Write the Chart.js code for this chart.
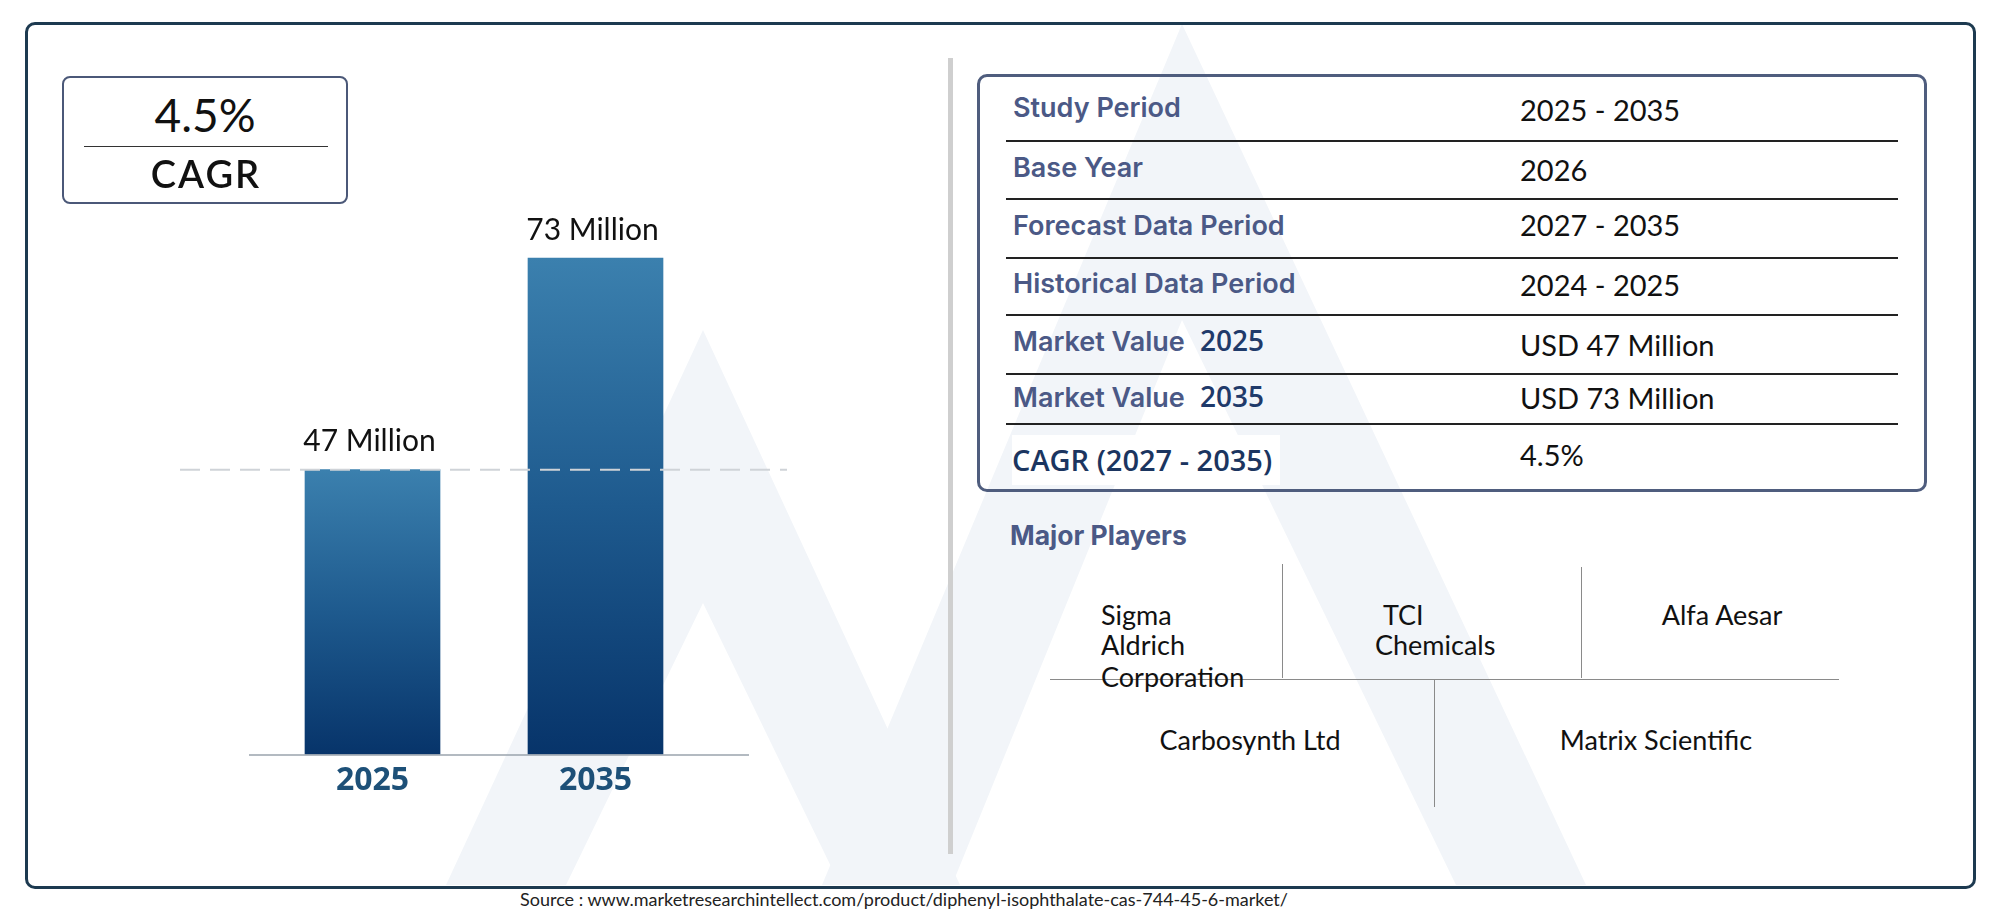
<!DOCTYPE html>
<html>
<head>
<meta charset="utf-8">
<script src="https://cdn.jsdelivr.net/npm/chart.js@4.4.1/dist/chart.umd.min.js"></script>
<style>
  html, body { margin: 0; padding: 0; background: #ffffff; width: 2000px; height: 917px; overflow: hidden; }
  #root { position: relative; width: 2000px; height: 917px; }
  .abs { position: absolute; white-space: nowrap; }
  .lbl { font-family: 'Inter', 'Open Sans', sans-serif; font-weight: 600; color: #4b5986; font-size: 27px; }
  .val { font-family: 'Lato', 'Noto Sans', sans-serif; color: #111; font-size: 29px; }
  .yr  { font-family: 'Open Sans', sans-serif; font-weight: 600; color: #1f3a6a; font-size: 28px; }
  .ply { font-family: 'Lato', 'Noto Sans', sans-serif; color: #111; font-size: 27px; }
</style>
</head>
<body>
<div id="root">
  <svg class="abs" style="left:0;top:0" width="2000" height="917">
    <path fill="#f2f5f9" fill-rule="evenodd"
      d="M703,330 L446,885 L960,885 Z M703,603 L566,885 L840,885 Z"/>
    <path fill="#f2f5f9" fill-rule="evenodd"
      d="M1182,24 L822,885 L1586,885 Z M1182,320 L952,885 L1456,885 Z"/>
  </svg>
  <div class="abs" style="left:25px;top:22px;width:1945px;height:861px;border:3px solid #1d3a50;border-radius:10px;"></div>
  <div class="abs" style="left:62px;top:76px;width:282px;height:124px;border:2.5px solid #4b5878;border-radius:8px;"></div>
  <div class="abs" style="left:84px;top:146px;width:244px;height:1px;background:#333;"></div>
  <div class="abs" style="left:948px;top:58px;width:5px;height:796px;background:#cfcfcf;"></div>
  <div class="abs" style="left:977px;top:74px;width:944px;height:412px;border:3px solid #4f5d7e;border-radius:10px;"></div>
  <div id="chartBox" class="abs" style="left:150px;top:150px;width:700px;height:700px;">
    <canvas id="c"></canvas>
  </div>
</div>
<script>
// ---- data ----
const categories = ['2025', '2035'];
const marketValues = [47, 73];
const valueLabels = ['47 Million', '73 Million'];
const cagrText = '4.5%';
const cagrTitle = 'CAGR';
const tableLabels = ['Study Period', 'Base Year', 'Forecast Data Period', 'Historical Data Period', 'Market Value', 'Market Value', 'CAGR (2027 - 2035)'];
const tableLabelYears = ['', '', '', '', '2025', '2035', ''];
const tableValues = ['2025 - 2035', '2026', '2027 - 2035', '2024 - 2025', 'USD 47 Million', 'USD 73 Million', '4.5%'];
const playersTitle = 'Major Players';
const players = ['Sigma\nAldrich\nCorporation', 'TCI\nChemicals', 'Alfa Aesar', 'Carbosynth Ltd', 'Matrix Scientific'];
const sourceText = 'Source : www.marketresearchintellect.com/product/diphenyl-isophthalate-cas-744-45-6-market/';

// ---- layout helpers ----
const root = document.getElementById('root');
function place(text, x, yc, cls, align, extra) {
  const d = document.createElement('div');
  d.className = 'abs ' + (cls || '');
  d.textContent = text;
  d.style.height = '50px';
  d.style.lineHeight = '50px';
  d.style.top = (yc - 25) + 'px';
  if (align === 'center') {
    d.style.left = (x - 400) + 'px';
    d.style.width = '800px';
    d.style.textAlign = 'center';
  } else {
    d.style.left = x + 'px';
  }
  if (extra) Object.assign(d.style, extra);
  root.appendChild(d);
  return d;
}
function hline(x1, x2, y, color, w) {
  const d = document.createElement('div');
  d.className = 'abs';
  Object.assign(d.style, { left: x1 + 'px', top: y + 'px', width: (x2 - x1) + 'px', height: (w || 1) + 'px', background: color });
  root.appendChild(d);
}
function vline(x, y1, y2, color, w) {
  const d = document.createElement('div');
  d.className = 'abs';
  Object.assign(d.style, { left: x + 'px', top: y1 + 'px', width: (w || 1) + 'px', height: (y2 - y1) + 'px', background: color });
  root.appendChild(d);
}

// CAGR box
place(cagrText, 205, 115, '', 'center', { fontFamily: 'Lato, sans-serif', fontSize: '46px', color: '#111' });
place(cagrTitle, 206, 173, '', 'center', { fontFamily: 'Lato, sans-serif', fontWeight: '600', fontSize: '38px', letterSpacing: '2px', color: '#111' });

// table
const rowY = [108, 168, 226, 284, 342, 398, 460];
const valY = [110, 170, 225, 285, 345, 398, 455];
const sepY = [140, 198, 257, 314, 373, 423];
sepY.forEach(y => hline(1006, 1898, y, '#222', 1.5));
tableLabels.forEach((t, i) => {
  if (i === tableLabels.length - 1) {
    place(t, 1012, rowY[i], 'yr', 'left', { fontSize: '29px', color: '#1b3560', background: '#fff', height: '50px', paddingRight: '8px' });
  } else {
    place(t, 1013, rowY[i], 'lbl', 'left');
  }
  if (tableLabelYears[i]) place(tableLabelYears[i], 1200, rowY[i] - 2, 'yr', 'left');
  place(tableValues[i], 1520, valY[i], 'val', 'left');
});

// major players
place(playersTitle, 1010, 535, 'lbl', 'left', { fontWeight: '700', fontSize: '26.5px' });
vline(1282, 564, 678, '#8a8a8a', 1);
vline(1581, 567, 678, '#8a8a8a', 1);
hline(1050, 1839, 679, '#8a8a8a', 1);
vline(1434, 680, 807, '#8a8a8a', 1);
const pl0 = players[0].split('\n');
[615, 645, 677].forEach((y, i) => place(pl0[i], 1101, y, 'ply', 'left'));
const pl1 = players[1].split('\n');
place(pl1[0], 1383, 615, 'ply', 'left');
place(pl1[1], 1375, 645, 'ply', 'left');
place(players[2], 1722, 615, 'ply', 'center');
place(players[3], 1250, 740, 'ply', 'center');
place(players[4], 1656, 740, 'ply', 'center');

// source
place(sourceText, 520, 899, '', 'left', { fontFamily: 'Lato, sans-serif', fontSize: '18px', color: '#222' });

// ---- chart ----
const yMin = 12, yMax = 80;

const barLabelPlugin = {
  id: 'barLabels',
  afterDatasetsDraw(chart) {
    const ctx = chart.ctx;
    const meta = chart.getDatasetMeta(0);
    const area = chart.chartArea;
    const ys = chart.scales.y;
    // reference dashed line at first value
    const yRef = ys.getPixelForValue(marketValues[0]);
    ctx.save();
    ctx.strokeStyle = '#cfd3d8';
    ctx.lineWidth = 2;
    ctx.setLineDash([20, 10]);
    ctx.beginPath();
    ctx.moveTo(area.left - 81, yRef);
    ctx.lineTo(area.right + 80, yRef);
    ctx.stroke();
    ctx.setLineDash([]);
    // baseline
    const yb = ys.getPixelForValue(yMin);
    ctx.strokeStyle = '#9aa3ad';
    ctx.lineWidth = 1.5;
    ctx.beginPath();
    ctx.moveTo(area.left - 12, yb + 0.5);
    ctx.lineTo(area.right + 42, yb + 0.5);
    ctx.stroke();
    // value labels
    ctx.fillStyle = '#111';
    ctx.font = '30px Lato, sans-serif';
    ctx.textAlign = 'center';
    ctx.textBaseline = 'middle';
    meta.data.forEach((el, i) => {
      ctx.fillText(valueLabels[i], el.x - 3, el.y - 28);
    });
    ctx.restore();
  }
};

function barGradient(context) {
  const chart = context.chart;
  const area = chart.chartArea;
  if (!area) return '#1f5a8e';
  const ys = chart.scales.y;
  const v = marketValues[context.dataIndex];
  const top = ys.getPixelForValue(v);
  const bottom = ys.getPixelForValue(yMin);
  const g = chart.ctx.createLinearGradient(0, top, 0, bottom);
  g.addColorStop(0, '#3b80ae');
  g.addColorStop(0.5, '#1e5a8e');
  g.addColorStop(1, '#07346a');
  return g;
}

new Chart(document.getElementById('c'), {
  type: 'bar',
  data: {
    labels: categories,
    datasets: [{
      data: marketValues,
      backgroundColor: barGradient,
      borderWidth: 0,
      barThickness: 135
    }]
  },
  options: {
    responsive: true,
    maintainAspectRatio: false,
    animation: false,
    devicePixelRatio: 1,
    layout: { padding: { left: 111, right: 143, top: 51, bottom: 43 } },
    plugins: { legend: { display: false }, tooltip: { enabled: false } },
    scales: {
      x: {
        grid: { display: false, drawTicks: false },
        border: { display: false },
        ticks: { color: '#1d5078', padding: 7, font: { family: 'Open Sans', size: 32, weight: 'bold' } }
      },
      y: { display: false, min: yMin, max: yMax }
    }
  },
  plugins: [barLabelPlugin]
});
</script>
</body>
</html>
